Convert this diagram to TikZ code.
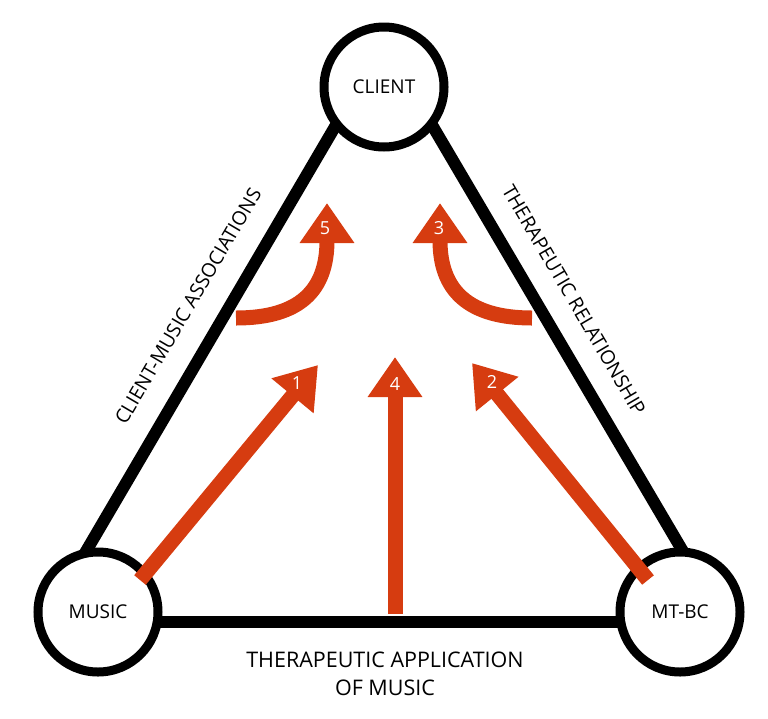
\documentclass[tikz,border=0pt]{standalone}
\usepackage{fontspec}
\setmainfont{Open Sans}
\usetikzlibrary{arrows.meta}

\begin{document}
\begin{tikzpicture}[x=1pt,y=-1pt,
  vertex/.style={circle,draw,line width=9pt,fill=white,minimum size=120pt,inner sep=0pt,font=\fontsize{19}{21}\selectfont},
  flow/.style={draw={rgb,255:red,214;green,60;blue,16},line width=15pt,
    arrows={-Triangle[width=52pt,length=40pt]}},
  num/.style={text=white,font=\fontsize{18}{20}\selectfont},
  edgelbl/.style={font=\fontsize{19.5}{22}\selectfont,align=center}]
  \useasboundingbox (0,0) rectangle (768,718);

  % Dreieck
  \coordinate (a) at (78,565);
  \coordinate (b) at (336,125);
  \coordinate (c) at (432,125);
  \coordinate (d) at (688,560);
  \coordinate (e) at (98,622);
  \coordinate (f) at (680,622);
  \draw[line width=12pt] (a) -- (b);
  \draw[line width=12pt] (c) -- (d);
  \draw[line width=12pt] (e) -- (f);
  \node[vertex] (client) at (384,87) {CLIENT};
  \node[vertex] (music) at (98,612) {MUSIC};
  \node[vertex] (mtbc) at (680,612) {MT-BC};

  % Pfeile
  \coordinate (s1) at (140,580);
  \coordinate (t1) at (318,365);
  \coordinate (s4) at (395,614);
  \coordinate (t4) at (395,357);
  \coordinate (s2) at (648,580);
  \coordinate (t2) at (472,363);
  \coordinate (s5) at (236,318);
  \coordinate (t5) at (327,203);
  \coordinate (s3) at (532,318);
  \coordinate (t3) at (440,203);
  \draw[flow] (s1) -- (t1);
  \draw[flow] (s4) -- (t4);
  \draw[flow] (s2) -- (t2);
  \draw[flow] (s5) .. controls (300,318) and (327,290) .. (t5);
  \draw[flow] (s3) .. controls (468,318) and (440,290) .. (t3);

  % Nummern
  \node[num] (n1) at (297,383) {1};
  \node[num] (n2) at (492,382) {2};
  \node[num] (n3) at (439,228) {3};
  \node[num] (n4) at (395,384) {4};
  \node[num] (n5) at (325,228) {5};

  % Beschriftungen
  \node[edgelbl,rotate=59.6] (lbl1) at (188,306) {CLIENT-MUSIC ASSOCIATIONS};
  \node[edgelbl,rotate=-59.6] (lbl2) at (574,300) {THERAPEUTIC RELATIONSHIP};
  \node[edgelbl,font=\fontsize{21.5}{24}\selectfont] (lbl3) at (385,674) {THERAPEUTIC APPLICATION\\[4pt]OF MUSIC};
\end{tikzpicture}
\end{document}
